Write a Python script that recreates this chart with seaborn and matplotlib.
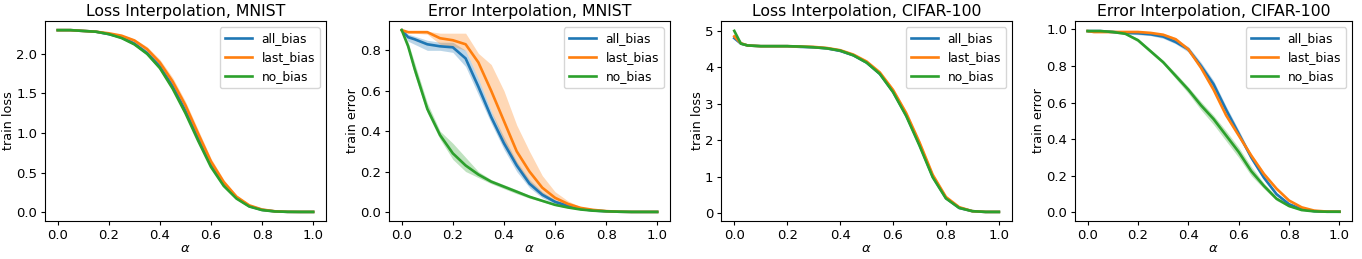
import matplotlib
matplotlib.use("Agg")
import matplotlib.pyplot as plt
import seaborn as sns

# ------------------------------
#  Data (interpolation coefficient alpha)
# ------------------------------

ALPHA = [0.0, 0.025, 0.05, 0.1, 0.15, 0.2, 0.25, 0.3, 0.35, 0.4, 0.45,
         0.5, 0.55, 0.6, 0.65, 0.7, 0.75, 0.8, 0.85, 0.9, 0.95, 1.0]

SERIES = ["all_bias", "last_bias", "no_bias"]

# Loss Interpolation, MNIST
MNIST_LOSS_ALL = [2.30, 2.30, 2.30, 2.29, 2.28, 2.25, 2.21, 2.13, 2.01, 1.84, 1.59, 1.28, 0.93, 0.59, 0.35, 0.18, 0.075, 0.028, 0.009, 0.003, 0.002, 0.002]
MNIST_LOSS_ALL_LO = [2.30, 2.30, 2.30, 2.29, 2.27, 2.24, 2.19, 2.11, 1.98, 1.80, 1.55, 1.24, 0.89, 0.56, 0.33, 0.17, 0.07, 0.025, 0.008, 0.003, 0.002, 0.002]
MNIST_LOSS_ALL_HI = [2.30, 2.30, 2.30, 2.29, 2.28, 2.26, 2.22, 2.15, 2.04, 1.87, 1.62, 1.31, 0.96, 0.62, 0.37, 0.19, 0.08, 0.03, 0.01, 0.003, 0.002, 0.002]
MNIST_LOSS_LAST = [2.30, 2.30, 2.30, 2.29, 2.28, 2.26, 2.23, 2.17, 2.06, 1.89, 1.65, 1.35, 0.99, 0.64, 0.38, 0.195, 0.085, 0.032, 0.01, 0.003, 0.002, 0.002]
MNIST_LOSS_LAST_LO = [2.30, 2.30, 2.30, 2.29, 2.28, 2.25, 2.21, 2.14, 2.03, 1.85, 1.60, 1.30, 0.94, 0.60, 0.36, 0.18, 0.078, 0.029, 0.009, 0.003, 0.002, 0.002]
MNIST_LOSS_LAST_HI = [2.30, 2.30, 2.30, 2.29, 2.28, 2.27, 2.24, 2.19, 2.09, 1.93, 1.70, 1.40, 1.04, 0.68, 0.41, 0.21, 0.092, 0.035, 0.011, 0.003, 0.002, 0.002]
MNIST_LOSS_NONE = [2.30, 2.30, 2.30, 2.29, 2.28, 2.25, 2.20, 2.12, 2.00, 1.82, 1.56, 1.25, 0.90, 0.57, 0.33, 0.17, 0.07, 0.025, 0.008, 0.003, 0.002, 0.002]
MNIST_LOSS_NONE_LO = [2.30, 2.30, 2.30, 2.29, 2.28, 2.25, 2.19, 2.11, 1.99, 1.80, 1.54, 1.23, 0.88, 0.56, 0.32, 0.165, 0.068, 0.024, 0.008, 0.003, 0.002, 0.002]
MNIST_LOSS_NONE_HI = [2.30, 2.30, 2.30, 2.29, 2.28, 2.25, 2.21, 2.13, 2.01, 1.84, 1.58, 1.27, 0.92, 0.58, 0.34, 0.175, 0.072, 0.026, 0.008, 0.003, 0.002, 0.002]

# Error Interpolation, MNIST
MNIST_ERR_ALL = [0.90, 0.865, 0.855, 0.83, 0.82, 0.815, 0.76, 0.62, 0.47, 0.34, 0.23, 0.14, 0.085, 0.05, 0.03, 0.015, 0.007, 0.003, 0.001, 0.0, 0.0, 0.0]
MNIST_ERR_ALL_LO = [0.90, 0.845, 0.83, 0.80, 0.80, 0.79, 0.72, 0.58, 0.44, 0.31, 0.20, 0.12, 0.07, 0.04, 0.024, 0.012, 0.005, 0.002, 0.0, 0.0, 0.0, 0.0]
MNIST_ERR_ALL_HI = [0.90, 0.88, 0.87, 0.85, 0.84, 0.84, 0.80, 0.66, 0.50, 0.37, 0.25, 0.16, 0.10, 0.06, 0.036, 0.018, 0.009, 0.004, 0.002, 0.0, 0.0, 0.0]
MNIST_ERR_LAST = [0.90, 0.89, 0.89, 0.89, 0.86, 0.85, 0.83, 0.74, 0.60, 0.45, 0.30, 0.20, 0.12, 0.07, 0.04, 0.02, 0.01, 0.004, 0.001, 0.0, 0.0, 0.0]
MNIST_ERR_LAST_LO = [0.90, 0.885, 0.885, 0.88, 0.83, 0.82, 0.80, 0.66, 0.50, 0.35, 0.23, 0.14, 0.08, 0.045, 0.025, 0.012, 0.005, 0.002, 0.0, 0.0, 0.0, 0.0]
MNIST_ERR_LAST_HI = [0.90, 0.895, 0.895, 0.895, 0.885, 0.885, 0.885, 0.785, 0.73, 0.60, 0.43, 0.30, 0.18, 0.10, 0.055, 0.025, 0.012, 0.005, 0.002, 0.0, 0.0, 0.0]
MNIST_ERR_NONE = [0.90, 0.82, 0.71, 0.51, 0.38, 0.29, 0.23, 0.185, 0.15, 0.125, 0.10, 0.075, 0.055, 0.035, 0.022, 0.012, 0.006, 0.003, 0.001, 0.0, 0.0, 0.0]
MNIST_ERR_NONE_LO = [0.90, 0.80, 0.68, 0.49, 0.36, 0.26, 0.20, 0.17, 0.14, 0.115, 0.09, 0.068, 0.05, 0.032, 0.02, 0.011, 0.005, 0.002, 0.001, 0.0, 0.0, 0.0]
MNIST_ERR_NONE_HI = [0.90, 0.84, 0.74, 0.54, 0.40, 0.34, 0.27, 0.20, 0.16, 0.135, 0.11, 0.082, 0.06, 0.038, 0.024, 0.013, 0.007, 0.004, 0.001, 0.0, 0.0, 0.0]

# Loss Interpolation, CIFAR-100
CIFAR_LOSS_ALL = [4.80, 4.65, 4.60, 4.58, 4.58, 4.58, 4.56, 4.55, 4.52, 4.45, 4.33, 4.13, 3.82, 3.33, 2.68, 1.88, 1.00, 0.41, 0.14, 0.05, 0.03, 0.03]
CIFAR_LOSS_ALL_LO = [4.78, 4.63, 4.59, 4.57, 4.57, 4.57, 4.55, 4.53, 4.50, 4.43, 4.30, 4.10, 3.78, 3.28, 2.63, 1.83, 0.96, 0.39, 0.13, 0.05, 0.03, 0.03]
CIFAR_LOSS_ALL_HI = [4.82, 4.67, 4.61, 4.59, 4.59, 4.59, 4.57, 4.57, 4.54, 4.47, 4.36, 4.16, 3.86, 3.38, 2.73, 1.93, 1.04, 0.43, 0.15, 0.05, 0.03, 0.03]
CIFAR_LOSS_LAST = [4.85, 4.66, 4.60, 4.58, 4.58, 4.58, 4.57, 4.56, 4.53, 4.47, 4.35, 4.16, 3.86, 3.38, 2.74, 1.94, 1.05, 0.44, 0.16, 0.05, 0.03, 0.03]
CIFAR_LOSS_LAST_LO = [4.83, 4.64, 4.59, 4.57, 4.57, 4.57, 4.56, 4.54, 4.51, 4.44, 4.32, 4.12, 3.82, 3.33, 2.69, 1.89, 1.01, 0.42, 0.15, 0.05, 0.03, 0.03]
CIFAR_LOSS_LAST_HI = [4.87, 4.68, 4.61, 4.59, 4.59, 4.59, 4.58, 4.58, 4.55, 4.50, 4.38, 4.20, 3.90, 3.43, 2.79, 1.99, 1.09, 0.46, 0.17, 0.05, 0.03, 0.03]
CIFAR_LOSS_NONE = [5.00, 4.65, 4.60, 4.58, 4.58, 4.58, 4.57, 4.55, 4.52, 4.46, 4.33, 4.13, 3.82, 3.32, 2.66, 1.85, 0.98, 0.40, 0.14, 0.05, 0.03, 0.03]
CIFAR_LOSS_NONE_LO = [4.98, 4.63, 4.59, 4.57, 4.57, 4.57, 4.56, 4.54, 4.51, 4.44, 4.31, 4.10, 3.79, 3.28, 2.62, 1.81, 0.95, 0.39, 0.13, 0.05, 0.03, 0.03]
CIFAR_LOSS_NONE_HI = [5.02, 4.67, 4.61, 4.59, 4.59, 4.59, 4.58, 4.56, 4.53, 4.48, 4.35, 4.16, 3.85, 3.36, 2.70, 1.89, 1.01, 0.41, 0.15, 0.05, 0.03, 0.03]

# Error Interpolation, CIFAR-100
CIFAR_ERR_ALL = [0.99, 0.99, 0.99, 0.985, 0.98, 0.978, 0.972, 0.96, 0.93, 0.89, 0.80, 0.70, 0.56, 0.43, 0.30, 0.19, 0.10, 0.045, 0.018, 0.007, 0.004, 0.004]
CIFAR_ERR_ALL_LO = [0.985, 0.985, 0.985, 0.98, 0.975, 0.97, 0.965, 0.95, 0.92, 0.875, 0.785, 0.68, 0.54, 0.41, 0.285, 0.18, 0.092, 0.04, 0.015, 0.006, 0.003, 0.003]
CIFAR_ERR_ALL_HI = [0.995, 0.995, 0.995, 0.99, 0.985, 0.985, 0.98, 0.97, 0.945, 0.905, 0.82, 0.72, 0.58, 0.45, 0.315, 0.20, 0.108, 0.05, 0.021, 0.008, 0.005, 0.005]
CIFAR_ERR_LAST = [0.99, 0.985, 0.985, 0.985, 0.985, 0.985, 0.98, 0.97, 0.945, 0.89, 0.79, 0.67, 0.53, 0.42, 0.31, 0.21, 0.13, 0.065, 0.028, 0.01, 0.005, 0.004]
CIFAR_ERR_LAST_LO = [0.985, 0.98, 0.98, 0.98, 0.98, 0.98, 0.975, 0.963, 0.935, 0.88, 0.78, 0.66, 0.52, 0.41, 0.30, 0.20, 0.122, 0.06, 0.025, 0.009, 0.004, 0.003]
CIFAR_ERR_LAST_HI = [0.995, 0.99, 0.99, 0.99, 0.99, 0.99, 0.985, 0.977, 0.955, 0.90, 0.80, 0.68, 0.54, 0.43, 0.32, 0.22, 0.138, 0.07, 0.031, 0.011, 0.006, 0.005]
CIFAR_ERR_NONE = [0.99, 0.99, 0.99, 0.985, 0.975, 0.94, 0.88, 0.82, 0.745, 0.67, 0.585, 0.51, 0.42, 0.33, 0.225, 0.145, 0.075, 0.035, 0.013, 0.006, 0.004, 0.004]
CIFAR_ERR_NONE_LO = [0.985, 0.985, 0.985, 0.98, 0.97, 0.93, 0.87, 0.81, 0.73, 0.65, 0.56, 0.48, 0.39, 0.30, 0.20, 0.13, 0.065, 0.03, 0.011, 0.005, 0.003, 0.003]
CIFAR_ERR_NONE_HI = [0.995, 0.995, 0.995, 0.99, 0.98, 0.95, 0.89, 0.83, 0.76, 0.685, 0.605, 0.53, 0.445, 0.355, 0.25, 0.16, 0.085, 0.04, 0.015, 0.007, 0.005, 0.005]

# ------------------------------
#  Panel setup
# ------------------------------

panels = [
    ("Loss Interpolation, MNIST", "train loss",
     [(MNIST_LOSS_ALL, MNIST_LOSS_ALL_LO, MNIST_LOSS_ALL_HI),
      (MNIST_LOSS_LAST, MNIST_LOSS_LAST_LO, MNIST_LOSS_LAST_HI),
      (MNIST_LOSS_NONE, MNIST_LOSS_NONE_LO, MNIST_LOSS_NONE_HI)]),
    ("Error Interpolation, MNIST", "train error",
     [(MNIST_ERR_ALL, MNIST_ERR_ALL_LO, MNIST_ERR_ALL_HI),
      (MNIST_ERR_LAST, MNIST_ERR_LAST_LO, MNIST_ERR_LAST_HI),
      (MNIST_ERR_NONE, MNIST_ERR_NONE_LO, MNIST_ERR_NONE_HI)]),
    ("Loss Interpolation, CIFAR-100", "train loss",
     [(CIFAR_LOSS_ALL, CIFAR_LOSS_ALL_LO, CIFAR_LOSS_ALL_HI),
      (CIFAR_LOSS_LAST, CIFAR_LOSS_LAST_LO, CIFAR_LOSS_LAST_HI),
      (CIFAR_LOSS_NONE, CIFAR_LOSS_NONE_LO, CIFAR_LOSS_NONE_HI)]),
    ("Error Interpolation, CIFAR-100", "train error",
     [(CIFAR_ERR_ALL, CIFAR_ERR_ALL_LO, CIFAR_ERR_ALL_HI),
      (CIFAR_ERR_LAST, CIFAR_ERR_LAST_LO, CIFAR_ERR_LAST_HI),
      (CIFAR_ERR_NONE, CIFAR_ERR_NONE_LO, CIFAR_ERR_NONE_HI)]),
]

# axes rectangles in figure fractions (left, bottom, width, height)
rects = [
    (0.0330, 0.1467, 0.2063, 0.772),
    (0.2856, 0.1467, 0.2063, 0.772),
    (0.5294, 0.1467, 0.2137, 0.772),
    (0.7893, 0.1467, 0.2034, 0.772),
]

colors = sns.color_palette("tab10", 3)
fs = 9.5

plt.rcParams.update({
    "xtick.labelsize": fs,
    "ytick.labelsize": fs,
    "xtick.major.size": 3,
    "ytick.major.size": 3,
    "xtick.major.pad": 2.8,
    "ytick.major.pad": 2.5,
    "axes.linewidth": 0.8,
})

fig = plt.figure(figsize=(13.62, 2.59), dpi=100)

for (title, ylabel, series), rect in zip(panels, rects):
    ax = fig.add_axes(rect)
    for name, (mean, lo, hi), c in zip(SERIES, series, colors):
        ax.fill_between(ALPHA, lo, hi, color=c, alpha=0.3, linewidth=0)
        sns.lineplot(x=ALPHA, y=mean, ax=ax, color=c, linewidth=1.9, label=name)
    ax.set_title(title, fontsize=11.3, pad=4)
    ax.set_xlabel(r"$\alpha$", fontsize=fs, labelpad=0)
    ax.set_ylabel(ylabel, fontsize=9.2, labelpad=1)
    ax.set_xticks([0.0, 0.2, 0.4, 0.6, 0.8, 1.0])
    ax.legend(loc="upper right", fontsize=8.8, handlelength=2.2)

fig.savefig("out.png", dpi=100)
